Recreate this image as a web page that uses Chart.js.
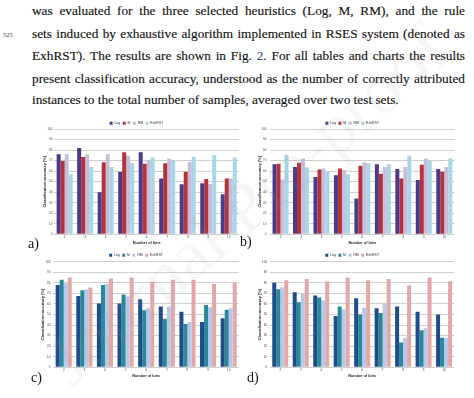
<!DOCTYPE html>
<html>
<head>
<meta charset="utf-8">
<title>Fig. 2 - classification accuracy</title>
<script src="https://cdn.jsdelivr.net/npm/chart.js@4.4.1/dist/chart.umd.min.js"></script>
<style>
  html, body { margin: 0; padding: 0; background: #fff; }
  #page {
    position: relative; width: 474px; height: 398px; overflow: hidden;
    background: #fff; color: #141414;
    font-family: "Liberation Serif", "DejaVu Serif", serif;
  }
  .line {
    position: absolute; left: 32px; width: 433px; height: 22px;
    font-size: 13.3px; line-height: 22px; white-space: nowrap;
    -webkit-text-stroke: 0.15px #141414;
  }
  .lineno { position: absolute; left: 3px; top: 31px; font-size: 6.5px; color: #444; }
  .ref { color: #2b4fa8; -webkit-text-stroke: 0.15px #2b4fa8; }
  .tag { position: absolute; font-size: 14px; line-height: 16px; }
  canvas.fig { position: absolute; }
  #wm {
    position: absolute; left: 247px; top: 205px; white-space: nowrap;
    transform: translate(-50%, -50%) rotate(-41deg);
    font-size: 72px; color: rgba(150,150,150,0.09); pointer-events: none; z-index: 5;
  }
</style>
</head>
<body>
<div id="page">
  <div class="line just" style="top:-0.5px"><span>was evaluated for the three selected heuristics (Log, M, RM), and the rule</span></div>
  <div class="lineno">525</div>
  <div class="line just" style="top:22.5px"><span>sets induced by exhaustive algorithm implemented in RSES system (denoted as</span></div>
  <div class="line just" style="top:45px"><span>ExhRST). The results are shown in Fig. <span class="ref">2</span>. For all tables and charts the results</span></div>
  <div class="line just" style="top:67.5px"><span>present classification accuracy, understood as the number of correctly attributed</span></div>
  <div class="line" style="top:88.5px"><span>instances to the total number of samples, averaged over two test sets.</span></div>

  <canvas class="fig" id="chartA"></canvas>
  <canvas class="fig" id="chartB"></canvas>
  <canvas class="fig" id="chartC"></canvas>
  <canvas class="fig" id="chartD"></canvas>

  <div class="tag" style="left:28px; top:236px">a)</div>
  <div class="tag" style="left:240px; top:234px">b)</div>
  <div class="tag" style="left:31px; top:370px">c)</div>
  <div class="tag" style="left:247px; top:370px">d)</div>

  <div id="wm">Journal Pre-proof</div>
</div>

<script>
  // categories and series
  const bins = ['2', '3', '4', '5', '6', '7', '8', '9', '10'];
  const seriesNames = ['Log', 'M', 'RM', 'ExhRST'];

  // a)
  const aLog = [76, 82, 40, 59.5, 78, 53, 47.5, 48.5, 38];
  const aM   = [69.5, 73.5, 68.5, 78, 67, 67.5, 59.5, 52.5, 53];
  const aRM  = [76, 76, 76, 74.5, 70, 72, 69, 48, 53];
  const aExh = [57, 64, 64, 68, 73, 70, 73.5, 75, 73];
  // b)
  const bLog = [66.5, 64, 54.5, 56, 34, 66.5, 62, 51.5, 62];
  const bM   = [67, 68, 61.5, 62.5, 65, 57.5, 53, 66, 59.5];
  const bRM  = [52, 72, 62.5, 61, 68.5, 64, 64, 72, 64];
  const bExh = [75.5, 63.5, 59.5, 57, 67.5, 66.5, 74.5, 70, 72];
  // c)
  const cLog = [78, 67.5, 60.5, 60.5, 64.5, 57.5, 52.5, 43, 46.5];
  const cM   = [83, 73, 78, 69, 54, 46, 41, 59, 54.5];
  const cRM  = [79.5, 74, 79, 67, 56, 57.5, 43, 57, 56];
  const cExh = [85, 75.5, 84, 85, 81, 83, 83, 79, 80];
  // d)
  const dLog = [80, 71, 68, 48.5, 65.5, 56, 57.5, 52.5, 50];
  const dM   = [74, 61.5, 66, 57.5, 50, 51.5, 23.5, 35, 28];
  const dRM  = [75.5, 69.5, 63.5, 55, 56.5, 60, 28, 37, 28];
  const dExh = [82.5, 83.5, 81.5, 85, 82.5, 83.5, 77.5, 85, 81.5];

  const colorsTop = ['#4b3a87', '#b5323a', '#c6bedb', '#a9d6e6'];
  const colorsBottom = ['#1f4d8c', '#2a8898', '#b7c9ea', '#e5a7a6'];

  // justify the full text lines
  document.querySelectorAll('.line.just').forEach(div => {
    const span = div.firstElementChild;
    const spaces = (span.textContent.match(/ /g) || []).length;
    const w = span.getBoundingClientRect().width;
    span.style.wordSpacing = ((433 - w) / spaces) + 'px';
  });

  function makeChart(id, plot, series, colors) {
    const el = document.getElementById(id);
    const x = Math.floor(plot.l - 20);
    const top = Math.floor(plot.t - 10);
    const width = Math.ceil(plot.r + 2 - x);
    const height = Math.ceil(plot.b + 13 - top);
    const yW = plot.l - x;
    const padR = x + width - plot.r;
    const legendH = plot.t - top;
    const xH = top + height - plot.b;
    el.width = width; el.height = height;
    el.style.left = x + 'px'; el.style.top = top + 'px';
    el.style.width = width + 'px'; el.style.height = height + 'px';

    const yTitleSize = 4, xTitleSize = 3.8;
    const yTitlePad = plot.titleX - x - yTitleSize * 1.2 / 2;
    const xTitlePad = (top + height) - (plot.b + 8.5) - xTitleSize * 1.2 / 2;

    return new Chart(el, {
      type: 'bar',
      data: {
        labels: bins,
        datasets: seriesNames.map((n, i) => ({
          label: n, data: series[i], backgroundColor: colors[i], borderWidth: 0,
          categoryPercentage: 0.78, barPercentage: 1
        }))
      },
      options: {
        responsive: false, animation: false, devicePixelRatio: 1,
        layout: { padding: { left: 0, right: padR, top: 0, bottom: 0 } },
        plugins: {
          legend: {
            position: 'top',
            labels: { boxWidth: 3, boxHeight: 3, padding: 2.5, color: '#333',
                      font: { size: 3.5, family: 'Liberation Sans' } }
          },
          tooltip: { enabled: false }
        },
        scales: {
          x: {
            grid: { display: false, drawTicks: false },
            border: { display: false },
            ticks: { font: { size: 3, family: 'Liberation Sans' }, color: '#444', padding: 1.2, maxRotation: 0, autoSkip: false },
            title: { display: true, text: 'Number of bins', color: '#222',
                     font: { size: xTitleSize, weight: 'bold', family: 'Liberation Sans' },
                     padding: { top: 0, bottom: xTitlePad } },
            afterFit: s => { s.height = xH; }
          },
          y: {
            min: 0, max: 100,
            ticks: { stepSize: 10, font: { size: 3, family: 'Liberation Sans' }, color: '#444', padding: plot.tickPad },
            grid: { color: '#cfcfcf', drawTicks: false },
            border: { display: false },
            title: { display: true, text: 'Classification accuracy [%]', color: '#222',
                     font: { size: yTitleSize, weight: 'bold', family: 'Liberation Sans' },
                     padding: { top: yTitlePad, bottom: 0 } },
            afterFit: s => { s.width = yW; }
          }
        }
      },
      plugins: [{
        id: 'fixLegend',
        afterInit(chart) {
          const lg = chart.legend;
          if (!lg) return;
          const fit = lg.fit.bind(lg);
          lg.fit = function () { fit(); this.height = legendH; };
        }
      }]
    });
  }

  makeChart('chartA', { l: 54.4, r: 239, t: 129, b: 234.3, titleX: 45, tickPad: 2 },
            [aLog, aM, aRM, aExh], colorsTop);
  makeChart('chartB', { l: 270.3, r: 454.5, t: 129, b: 234.3, titleX: 259.5, tickPad: 4 },
            [bLog, bM, bRM, bExh], colorsTop);
  makeChart('chartC', { l: 53.4, r: 239, t: 261.7, b: 367.3, titleX: 43, tickPad: 3 },
            [cLog, cM, cRM, cExh], colorsBottom);
  makeChart('chartD', { l: 270, r: 454.3, t: 261.7, b: 367.3, titleX: 260, tickPad: 3 },
            [dLog, dM, dRM, dExh], colorsBottom);
</script>
</body>
</html>
